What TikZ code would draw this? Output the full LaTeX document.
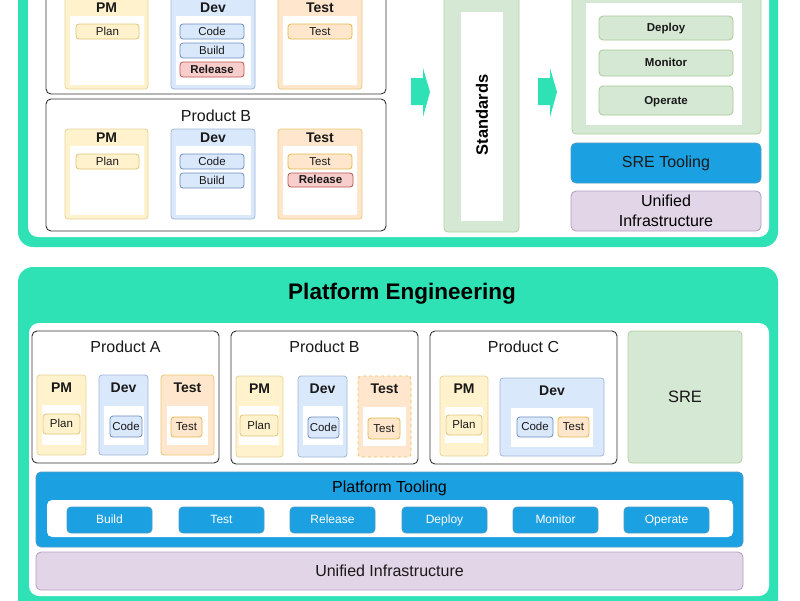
\documentclass[tikz,border=0pt]{standalone}
\usepackage{fontspec}
\setmainfont{Liberation Sans}
\definecolor{mint}{HTML}{2EE2B5}
\definecolor{ylwF}{HTML}{FFF2CC}\definecolor{ylwD}{HTML}{D6B656}
\definecolor{bluF}{HTML}{DAE8FC}\definecolor{bluD}{HTML}{6C8EBF}
\definecolor{orgF}{HTML}{FFE6CC}\definecolor{orgD}{HTML}{D79B00}
\definecolor{redF}{HTML}{F8CECC}\definecolor{redD}{HTML}{B85450}
\definecolor{grnF}{HTML}{D5E8D4}\definecolor{grnD}{HTML}{82B366}
\definecolor{toolF}{HTML}{1BA1E2}\definecolor{toolD}{HTML}{006EAF}
\definecolor{purF}{HTML}{E1D5E7}\definecolor{purD}{HTML}{9673A6}
\newcommand\rbox[7]{\node[#2, minimum width={#5-#3}, minimum height={#6-#4}] (#1) at ({(#3+#5)/2},{(#4+#6)/2}) {#7};}
\newcommand\fs[1]{\fontsize{#1}{#1}\selectfont}
\tikzset{
  bx/.style={inner sep=0pt, outer sep=0pt, line width=0.8pt, text=black!90},
  mintp/.style={bx, fill=mint, draw=none, rounded corners=15pt},
  whitep/.style={bx, fill=white, draw=none, rounded corners=10pt},
  product/.style={bx, fill=white, draw=black!80, rounded corners=5pt, line width=0.9pt},
  pmcol/.style={bx, fill=ylwF, draw=ylwD!60, rounded corners=3pt},
  devcol/.style={bx, fill=bluF, draw=bluD!65, rounded corners=3pt},
  testcol/.style={bx, fill=orgF, draw=orgD!55, rounded corners=3pt},
  inner/.style={bx, fill=white, draw=none},
  ctitle/.style={inner sep=0pt, font=\fs{14}\bfseries, text=black!90},
  item/.style={bx, rounded corners=3pt, font=\fs{11.5}, text height=8.2pt, text depth=1pt},
  pmitem/.style={item, fill=ylwF, draw=ylwD!80},
  devitem/.style={item, fill=bluF, draw=bluD},
  testitem/.style={item, fill=orgF, draw=orgD!70},
  relitem/.style={item, fill=redF, draw=redD, font=\fs{11.5}\bfseries},
  grnbox/.style={bx, fill=grnF, draw=grnD!60, rounded corners=4pt},
  grnitem/.style={bx, fill=grnF, draw=grnD!70, rounded corners=4pt, font=\fs{11.5}\bfseries, text height=8.2pt, text depth=1pt},
  toolbar/.style={bx, fill=toolF, draw=toolD!70, rounded corners=5pt, font=\fs{16}},
  toolbtn/.style={bx, fill=toolF, draw=toolD!70, rounded corners=4pt, text=white, font=\fs{12}, text height=8.5pt, text depth=1pt},
  infra/.style={bx, fill=purF, draw=purD!70, rounded corners=5pt, font=\fs{16}},
  plabel/.style={inner sep=0pt, font=\fs{16}, text=black!90},
  blockarrow/.style={fill=mint, draw=none},
}
\begin{document}
\begin{tikzpicture}[x=1pt,y=-1pt]
\useasboundingbox (0,0) rectangle (800,600);
\fill[white] (0,0) rectangle (800,600);
% ---------- top panel ----------
\rbox{topG}{mintp}{18}{-40}{778}{247}{}
\rbox{topW}{whitep}{28}{-40}{769}{237}{}
% Product A (top)
\rbox{prodA1}{product}{46}{-20}{386}{94}{}
\rbox{pmA1}{pmcol}{65}{-10}{148}{89}{}
\rbox{pmA1w}{inner}{70}{16}{144}{85}{}
\node[ctitle] (pmA1t) at (106.5,8) {PM};
\rbox{planA1}{pmitem}{76}{24}{139}{39}{Plan}
\rbox{devA1}{devcol}{171}{-10}{255}{89}{}
\rbox{devA1w}{inner}{176}{16}{251}{85}{}
\node[ctitle] (devA1t) at (213,8) {Dev};
\rbox{codeA1}{devitem}{180}{24}{244}{39}{Code}
\rbox{buildA1}{devitem}{180}{43}{244}{58}{Build}
\rbox{relA1}{relitem}{180}{62}{244}{77}{Release}
\rbox{testA1}{testcol}{278}{-10}{362}{89}{}
\rbox{testA1w}{inner}{283}{16}{357}{85}{}
\node[ctitle] (testA1t) at (320,8) {Test};
\rbox{tstA1}{testitem}{288}{24}{352}{39}{Test}
% Product B (top)
\rbox{prodB1}{product}{46}{99}{386}{231}{}
\node[plabel] (prodB1t) at (216,116) {Product B};
\rbox{pmB1}{pmcol}{65}{129}{148}{219}{}
\rbox{pmB1w}{inner}{70}{146}{144}{215}{}
\node[ctitle] (pmB1t) at (106.5,138) {PM};
\rbox{planB1}{pmitem}{76}{154}{139}{169}{Plan}
\rbox{devB1}{devcol}{171}{129}{255}{219}{}
\rbox{devB1w}{inner}{176}{146}{251}{215}{}
\node[ctitle] (devB1t) at (213,138) {Dev};
\rbox{codeB1}{devitem}{180}{154}{244}{169}{Code}
\rbox{buildB1}{devitem}{180}{173}{244}{188}{Build}
\rbox{testB1}{testcol}{278}{129}{362}{219}{}
\rbox{testB1w}{inner}{283}{146}{357}{215}{}
\node[ctitle] (testB1t) at (320,138) {Test};
\rbox{tstB1}{testitem}{288}{154}{352}{169}{Test}
\rbox{relB1}{relitem}{288}{173}{353}{187}{Release}
% block arrows
\fill[blockarrow] (411,78) -- (423,78) -- (423,68) -- (430,92) -- (423,117) -- (423,105) -- (411,105) -- cycle;
\fill[blockarrow] (538,78) -- (550,78) -- (550,68) -- (557,92) -- (550,117) -- (550,105) -- (538,105) -- cycle;
% Standards
\rbox{std}{grnbox}{444}{-20}{519}{232}{}
\rbox{stdw}{inner}{461}{12}{503}{221}{}
\node[inner sep=0pt, rotate=90, font=\fs{16.5}\bfseries] (stdt) at (482,115) {Standards};
% SRE group
\rbox{sreG}{grnbox}{572}{-20}{761}{134}{}
\rbox{sreW}{inner}{586}{3}{742}{125}{}
\rbox{deploy1}{grnitem}{599}{16}{733}{40}{Deploy}
\rbox{monitor1}{grnitem}{599}{50}{733}{76}{Monitor}
\rbox{operate1}{grnitem}{599}{86}{733}{115}{Operate}
\rbox{sretool}{toolbar}{571}{143}{761}{183}{SRE Tooling}
\rbox{infra1}{infra}{571}{191}{761}{231}{}
\node[inner sep=0pt, align=center, font=\fontsize{16}{19.5}\selectfont] (infra1t) at (666,211) {Unified\\Infrastructure};
% ---------- bottom panel ----------
\rbox{botG}{mintp}{18}{267}{778}{630}{}
\node[inner sep=0pt, font=\fs{22.5}\bfseries] (botT) at (402,294) {Platform Engineering};
\rbox{botW}{whitep}{29}{323}{769}{596}{}
% Product A
\rbox{prodA2}{product}{32}{331}{219}{463}{}
\node[plabel] (prodA2t) at (125.5,347) {Product A};
\rbox{pmA2}{pmcol}{37}{375}{86}{455}{}
\rbox{pmA2w}{inner}{42}{405}{81}{445}{}
\node[ctitle] (pmA2t) at (61.5,388) {PM};
\rbox{planA2}{pmitem}{43}{414}{80}{434}{Plan}
\rbox{devA2}{devcol}{99}{375}{148}{455}{}
\rbox{devA2w}{inner}{104}{406}{144}{445}{}
\node[ctitle] (devA2t) at (123.5,388) {Dev};
\rbox{codeA2}{devitem}{110}{416}{142}{437}{Code}
\rbox{testA2}{testcol}{161}{375}{214}{455}{}
\rbox{testA2w}{inner}{167}{406}{208}{445}{}
\node[ctitle] (testA2t) at (187.5,388) {Test};
\rbox{tstA2}{testitem}{171}{417}{202}{437}{Test}
% Product B
\rbox{prodB2}{product}{231}{331}{418}{464}{}
\node[plabel] (prodB2t) at (324.5,347) {Product B};
\rbox{pmB2}{pmcol}{236}{376}{283}{457}{}
\rbox{pmB2w}{inner}{239}{406}{279}{445}{}
\node[ctitle] (pmB2t) at (259.5,389) {PM};
\rbox{planB2}{pmitem}{240}{415}{278}{436}{Plan}
\rbox{devB2}{devcol}{298}{376}{347}{457}{}
\rbox{devB2w}{inner}{303}{406}{343}{445}{}
\node[ctitle] (devB2t) at (322.5,389) {Dev};
\rbox{codeB2}{devitem}{308}{417}{339}{438}{Code}
\rbox{testB2}{testcol, dashed, draw=orgD!60}{358}{376}{411}{457}{}
\rbox{testB2w}{inner}{363}{407}{406}{446}{}
\node[ctitle] (testB2t) at (384.5,389) {Test};
\rbox{tstB2}{testitem}{368}{418}{400}{439}{Test}
% Product C
\rbox{prodC2}{product}{430}{331}{617}{464}{}
\node[plabel] (prodC2t) at (523.5,347) {Product C};
\rbox{pmC2}{pmcol}{440}{376}{488}{456}{}
\rbox{pmC2w}{inner}{445}{407}{483}{443}{}
\node[ctitle] (pmC2t) at (464,389) {PM};
\rbox{planC2}{pmitem}{446}{415}{482}{435}{Plan}
\rbox{devC2}{devcol}{500}{378}{604}{456}{}
\rbox{devC2w}{inner}{511}{408}{593}{447}{}
\node[ctitle] (devC2t) at (552,391) {Dev};
\rbox{codeC2}{devitem}{517}{417}{553}{437}{Code}
\rbox{tstC2}{testitem}{558}{417}{589}{437}{Test}
% SRE
\rbox{sre2}{grnbox, font=\fs{16.5}}{628}{331}{742}{463}{SRE}
% Platform tooling
\rbox{ptool}{toolbar}{36}{472}{743}{547}{}
\node[inner sep=0pt, font=\fs{16}] (ptoolt) at (389.5,488) {Platform Tooling};
\rbox{ptoolw}{inner, rounded corners=5pt}{47}{500}{733}{537}{}
\rbox{bBuild}{toolbtn}{67}{507}{152}{533}{Build}
\rbox{bTest}{toolbtn}{179}{507}{264}{533}{Test}
\rbox{bRelease}{toolbtn}{290}{507}{375}{533}{Release}
\rbox{bDeploy}{toolbtn}{402}{507}{487}{533}{Deploy}
\rbox{bMonitor}{toolbtn}{513}{507}{598}{533}{Monitor}
\rbox{bOperate}{toolbtn}{624}{507}{709}{533}{Operate}
\rbox{infra2}{infra, font=\fs{16}}{36}{552}{743}{590}{Unified Infrastructure}
\end{tikzpicture}
\end{document}
